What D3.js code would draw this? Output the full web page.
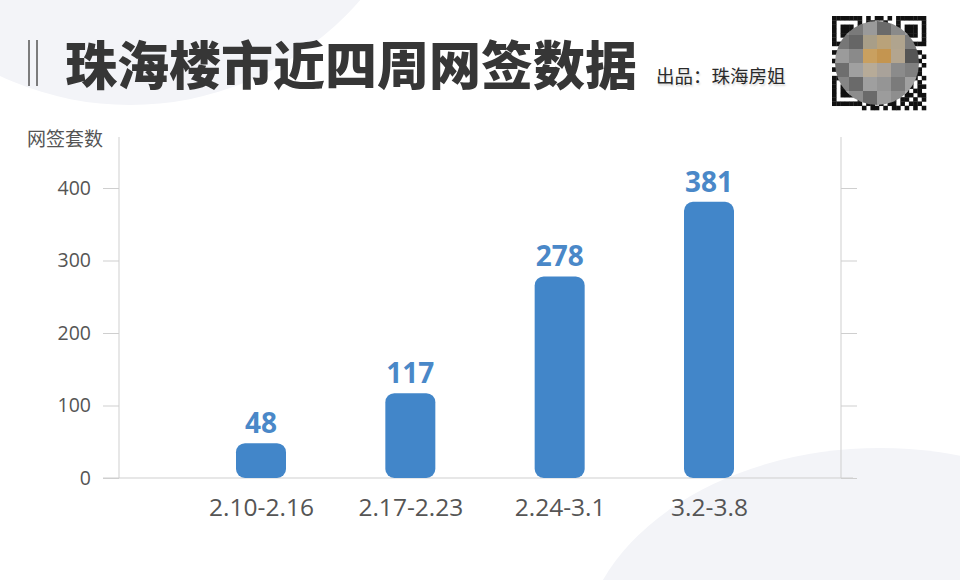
<!DOCTYPE html>
<html><head><meta charset="utf-8">
<script src="https://cdn.jsdelivr.net/npm/d3@7/dist/d3.min.js"></script>
<style>
html,body{margin:0;padding:0;background:#fff;}
svg{display:block;}
</style></head>
<body>
<svg id="chart" width="960" height="580"></svg>
<script>
// ---- data ----
const categories = ["2.10-2.16", "2.17-2.23", "2.24-3.1", "3.2-3.8"];
const values = [48, 117, 278, 381];
const yTicks = [0, 100, 200, 300, 400];
const titleText = "珠海楼市近四周网签数据";
const sourceText = "出品：珠海房姐";
const yAxisTitle = "网签套数";

(function () {
const svg = d3.select("#chart");
const W = 960, H = 580;

// ---- background decoration ----
svg.append("rect").attr("width", W).attr("height", H).attr("fill", "#ffffff");
svg.append("circle").attr("cx", 130).attr("cy", -200).attr("r", 305).attr("fill", "#f3f4f8");
svg.append("ellipse").attr("cx", 880).attr("cy", 662).attr("rx", 300).attr("ry", 214).attr("fill", "#f3f4f8");

// ---- title ----
const cjk = "'Noto Sans CJK SC','Noto Sans',sans-serif";
svg.append("line").attr("x1", 29).attr("x2", 29).attr("y1", 40).attr("y2", 86).attr("stroke", "#555").attr("stroke-width", 1.5);
svg.append("line").attr("x1", 37).attr("x2", 37).attr("y1", 40).attr("y2", 86).attr("stroke", "#555").attr("stroke-width", 1.5);
svg.append("text").attr("x", 65).attr("y", 62).attr("dominant-baseline", "central")
  .attr("font-family", cjk).attr("font-weight", 900).attr("font-size", 52)
  .attr("fill", "#363636").text(titleText);
svg.append("text").attr("x", 656).attr("y", 75).attr("dominant-baseline", "central")
  .attr("font-family", cjk).attr("font-weight", 400).attr("font-size", 18.5)
  .attr("fill", "#2a2a2a").style("text-shadow", "1px 2px 2px rgba(0,0,0,0.15)").text(sourceText);

// ---- QR placeholder (decorative) ----
const qr = svg.append("g").attr("transform", "translate(832,16)");
const qrPattern = [
  "1111111010110101111111",
  "1000001011001001000001",
  "1011101001110101011101",
  "1011101110011001011101",
  "1011101010101101011101",
  "1000001001011001000001",
  "1111111010101011111111",
  "0000000011010100000000",
  "1101011100101011010110",
  "0110100011010100101101",
  "1011011101101011101010",
  "0100110010110100110101",
  "1110101101001011011010",
  "0001011010110110100110",
  "1111111001011010101101",
  "1000001010110101011010",
  "1011101011001101101011",
  "1011101100110010110110",
  "1011101011011101011011",
  "1000001010101010110101",
  "1111111011010110101110",
  "0000000101101011010101"
];
const cell = 94 / qrPattern.length;
qrPattern.forEach((row, r) => {
  row.split("").forEach((c, k) => {
    if (c === "1") qr.append("rect").attr("x", k * cell).attr("y", r * cell)
      .attr("width", cell + 0.3).attr("height", cell + 0.3).attr("fill", "#111");
  });
});
const defs = svg.append("defs");
defs.append("clipPath").attr("id", "avatarClip").append("circle").attr("cx", 877).attr("cy", 63).attr("r", 42);
const mosaic = [
  ["#8c8c8c","#7a7a7a","#9a9a9a","#6a6a6a","#8a8a8a","#9c9c9c"],
  ["#777777","#666666","#a89e88","#b9a27a","#b0a48e","#7c7c7c"],
  ["#9b9b9b","#8a8a8a","#c9a060","#c49550","#b3a58f","#555555"],
  ["#6e6e6e","#a0a0a0","#b7ab98","#a9a29a","#8b8b8b","#7f7f7f"],
  ["#858585","#6a6a6a","#9f9f9f","#959595","#7b7b7b","#a0a0a0"],
  ["#a5a5a5","#8d8d8d","#6a6a6a","#9c9c9c","#8e8e8e","#b2b2b2"]
];
const av = svg.append("g").attr("clip-path", "url(#avatarClip)");
mosaic.forEach((row, r) => row.forEach((c, k) => {
  av.append("rect").attr("x", 835 + k * 14).attr("y", 21 + r * 14).attr("width", 14.5).attr("height", 14.5).attr("fill", c);
}));

// ---- chart area ----
const pLeft = 119, pRight = 841, pTop = 137, pBottom = 478;
const y = d3.scaleLinear().domain([0, 400]).range([pBottom, 188]);
const x = d3.scalePoint().domain(categories).range([261, 709]);
const barW = 50;
const axisColor = "#cfcfcf";
const numFont = "'Open Sans','Noto Sans',sans-serif";

// left axis
const yAxisL = d3.axisLeft(y).tickValues(yTicks).tickSize(16).tickPadding(12).tickFormat(d3.format("d"));
const gl = svg.append("g").attr("transform", `translate(${pLeft},0)`).call(yAxisL);
gl.select(".domain").remove();
gl.selectAll(".tick line").attr("stroke", axisColor);
gl.selectAll(".tick text").attr("font-family", numFont).attr("font-size", 19.5).attr("fill", "#555");
svg.append("line").attr("x1", pLeft).attr("x2", pLeft).attr("y1", pTop).attr("y2", pBottom).attr("stroke", axisColor);

// right axis
const yAxisR = d3.axisRight(y).tickValues(yTicks).tickSize(16).tickFormat("");
const gr = svg.append("g").attr("transform", `translate(${pRight},0)`).call(yAxisR);
gr.select(".domain").remove();
gr.selectAll(".tick line").attr("stroke", axisColor);
svg.append("line").attr("x1", pRight).attr("x2", pRight).attr("y1", pTop).attr("y2", pBottom).attr("stroke", axisColor);

// x axis
const xAxis = d3.axisBottom(x).tickSize(0).tickPadding(21);
const gx = svg.append("g").attr("transform", `translate(0,${pBottom})`).call(xAxis);
gx.select(".domain").remove();
gx.selectAll(".tick text").attr("font-family", numFont).attr("font-size", 24.5).attr("fill", "#555");
svg.append("line").attr("x1", 103).attr("x2", 853).attr("y1", pBottom).attr("y2", pBottom).attr("stroke", axisColor);

// y axis title
svg.append("text").attr("x", 27).attr("y", 137).attr("dominant-baseline", "central")
  .attr("font-family", cjk).attr("font-size", 19).attr("fill", "#555").text(yAxisTitle);

// bars
svg.append("g").selectAll("rect").data(values).join("rect")
  .attr("x", (d, i) => x(categories[i]) - barW / 2)
  .attr("y", d => y(d))
  .attr("width", barW)
  .attr("height", d => pBottom - y(d))
  .attr("rx", 9).attr("ry", 9)
  .attr("fill", "#4286c9");

// value labels
svg.append("g").selectAll("text").data(values).join("text")
  .attr("x", (d, i) => x(categories[i]))
  .attr("y", d => y(d) - 10)
  .attr("text-anchor", "middle")
  .attr("font-family", numFont).attr("font-weight", 700).attr("font-size", 28)
  .attr("fill", "#4a88c8").text(d => d);
})();
</script>
</body></html>
